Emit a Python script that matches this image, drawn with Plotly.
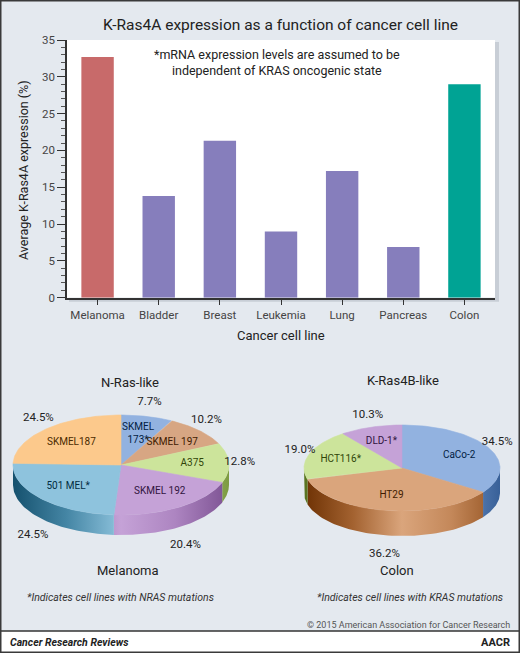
import colorsys
import numpy as np
import plotly.graph_objects as go

W, H = 520, 653
FONT = 'Roboto'

# ---- bar chart data ----
cell_lines = ['Melanoma', 'Bladder', 'Breast', 'Leukemia', 'Lung', 'Pancreas', 'Colon']
kras4a_expr = [32.7, 13.8, 21.3, 9.0, 17.2, 6.9, 29.0]
bar_colors = ['#c86a6a', '#867ebc', '#867ebc', '#867ebc', '#867ebc', '#867ebc', '#00a394']

# ---- pie data (clockwise from 12 o'clock) ----
nras_lines = ['SKMEL<br>173*', 'SKMEL 197', 'A375', 'SKMEL 192', '501 MEL*', 'SKMEL187']
nras_pct = [7.7, 10.2, 12.8, 20.4, 24.5, 24.5]
nras_colors = ['#92b2e0', '#d7a683', '#cce49b', '#c5a2d7', '#8ec3dd', '#fcc98c']

kras_lines = ['CaCo-2', 'HT29', 'HCT116*', 'DLD-1*']
kras_pct = [34.5, 36.2, 19.0, 10.3]
kras_colors = ['#92b2e0', '#daa57c', '#cce49b', '#c5a2d7']


def px(x):
    return x / W


def py(y):
    return 1 - y / H


def shade(hex_color, f):
    """Darken a colour (f < 1) while pushing its saturation up, like a shaded wall."""
    h = hex_color.lstrip('#')
    r, g, b = (int(h[i:i + 2], 16) / 255 for i in (0, 2, 4))
    hh, s, v = colorsys.rgb_to_hsv(r, g, b)
    s = min(1.0, s * (1 + (1 - f) * 2.5))
    r, g, b = colorsys.hsv_to_rgb(hh, s, v * f)
    return 'rgb(%d,%d,%d)' % (r * 255, g * 255, b * 255)


def add_pie3d(fig, labels, values, colors, cx, cy, a, b, depth):
    """Tilted pie drawn as filled polygons on the hidden x2/y2 axes."""
    bounds = np.concatenate([[0], np.cumsum(values)]) / sum(values) * 360
    # side walls, front half only
    for i, col in enumerate(colors):
        t1, t2 = max(bounds[i], 90), min(bounds[i + 1], 270)
        if t2 <= t1:
            continue
        th = np.radians(np.linspace(t1, t2, 60))
        xs = cx + a * np.sin(th)
        ys = cy - b * np.cos(th)
        fig.add_trace(go.Scatter(
            x=np.concatenate([xs, xs[::-1], xs[:1]]),
            y=np.concatenate([ys, ys[::-1] + depth, ys[:1]]),
            mode='lines', fill='toself', line=dict(width=0),
            fillgradient=dict(type='horizontal', start=cx - a, stop=cx + a,
                              colorscale=[[0, shade(col, 0.5)], [0.25, shade(col, 0.75)],
                                          [0.5, shade(col, 1.0)], [0.75, shade(col, 0.9)],
                                          [1, shade(col, 0.68)]]),
            xaxis='x2', yaxis='y2', hoverinfo='skip', showlegend=False))
    # top surface
    for i, col in enumerate(colors):
        th = np.radians(np.linspace(bounds[i], bounds[i + 1], 80))
        fig.add_trace(go.Scatter(
            x=np.concatenate([[cx], cx + a * np.sin(th), [cx]]),
            y=np.concatenate([[cy], cy - b * np.cos(th), [cy]]),
            mode='lines', fill='toself', fillcolor=col,
            line=dict(width=0.6, color=col),
            xaxis='x2', yaxis='y2', hoverinfo='skip', showlegend=False))
    # labels
    mids = np.radians((bounds[:-1] + bounds[1:]) / 2)
    fig.add_trace(go.Scatter(
        x=cx + 0.66 * a * np.sin(mids), y=cy - 0.64 * b * np.cos(mids),
        mode='text', text=labels,
        textfont=dict(family=FONT, size=10, color=[shade(c, 0.3) for c in colors]),
        xaxis='x2', yaxis='y2', hoverinfo='skip', showlegend=False))
    front = np.where(np.cos(mids) < 0, depth + 6, 0)
    fig.add_trace(go.Scatter(
        x=cx + 1.1 * a * np.sin(mids), y=cy - 1.3 * b * np.cos(mids) + front,
        mode='text', text=['%.1f%%' % v for v in values],
        textfont=dict(family=FONT, size=11.5, color='#222'),
        xaxis='x2', yaxis='y2', hoverinfo='skip', showlegend=False))


fig = go.Figure()

fig.add_trace(go.Bar(
    x=cell_lines, y=kras4a_expr, marker=dict(color=bar_colors, line=dict(width=0)),
    width=0.53, hoverinfo='x+y', showlegend=False))

add_pie3d(fig, nras_lines, nras_pct, nras_colors, cx=121, cy=465, a=108, b=50, depth=20)
add_pie3d(fig, kras_lines, kras_pct, kras_colors, cx=402, cy=468, a=98, b=43, depth=25)

# plot area white panel with drop shadow, footer and frame
x0, x1 = px(67), px(495)
y0, y1 = py(297.7), py(40)
shapes = [
    dict(type='rect', xref='paper', yref='paper', x0=x0 + px(2), x1=x1 + px(4),
         y0=y0 - 4 / H, y1=y1 - 2 / H, fillcolor='#c8ced6', line=dict(width=0), layer='below'),
    dict(type='rect', xref='paper', yref='paper', x0=x0, x1=x1, y0=y0, y1=y1,
         fillcolor='white', line=dict(width=0), layer='below'),
    dict(type='rect', xref='paper', yref='paper', x0=0, x1=1, y0=0, y1=py(631),
         fillcolor='white', line=dict(width=0), layer='below'),
    dict(type='line', xref='paper', yref='paper', x0=0, x1=1, y0=py(631), y1=py(631),
         line=dict(color='#333', width=1.5)),
    dict(type='rect', xref='paper', yref='paper', x0=0.5 / W, x1=1 - 0.5 / W,
         y0=0.5 / H, y1=1 - 0.5 / H, line=dict(color='#3a3a3a', width=2)),
]

ann = [
    dict(x=px(280), y=py(25), text='K-Ras4A expression as a function of cancer cell line',
         font=dict(size=15.5, color='#222')),
    dict(x=px(277), y=py(62), text='*mRNA expression levels are assumed to be<br>independent of KRAS oncogenic state',
         font=dict(size=12.5, color='#222')),
    dict(x=px(24), y=py(170), text='Average K-Ras4A expression (%)', textangle=-90,
         font=dict(size=12.5, color='#222')),
    dict(x=px(281), y=py(335), text='Cancer cell line', font=dict(size=13, color='#222')),
    dict(x=px(130), y=py(382), text='N-Ras-like', font=dict(size=13, color='#222')),
    dict(x=px(403), y=py(380), text='K-Ras4B-like', font=dict(size=13, color='#222')),
    dict(x=px(128), y=py(570), text='Melanoma', font=dict(size=13, color='#222')),
    dict(x=px(397), y=py(570), text='Colon', font=dict(size=13, color='#222')),
    dict(x=px(120), y=py(597), text='<i>*Indicates cell lines with NRAS mutations</i>',
         font=dict(size=10.5, color='#333')),
    dict(x=px(410), y=py(597), text='<i>*Indicates cell lines with KRAS mutations</i>',
         font=dict(size=10.5, color='#333')),
    dict(x=px(512), y=py(625), xanchor='right', text='\u00a9 2015 American Association for Cancer Research',
         font=dict(size=9, color='#555')),
    dict(x=px(8), y=py(642), xanchor='left', text='<b><i>Cancer Research Reviews</i></b>',
         font=dict(size=10.5, color='#222')),
    dict(x=px(512), y=py(642), xanchor='right', text='<b>AACR</b>',
         font=dict(size=11, color='#222')),
]
for a_ in ann:
    a_.setdefault('xref', 'paper')
    a_.setdefault('yref', 'paper')
    a_.setdefault('xanchor', 'center')
    a_.setdefault('yanchor', 'middle')
    a_.setdefault('showarrow', False)
    a_['font'].setdefault('family', FONT)

fig.update_layout(
    width=W, height=H, autosize=False,
    margin=dict(l=0, r=0, t=0, b=0),
    paper_bgcolor='#e4e9ef', plot_bgcolor='rgba(0,0,0,0)',
    font=dict(family=FONT, color='#333'),
    shapes=shapes, annotations=ann, showlegend=False,
    xaxis=dict(domain=[x0, x1], type='category', range=[-0.5, 6.5],
               showline=True, linecolor='#333', linewidth=1.5,
               ticks='outside', ticklen=6, tickcolor='#333', tickwidth=1.2,
               tickfont=dict(size=11.5, color='#444'), showgrid=False, automargin=False),
    yaxis=dict(domain=[y0, y1], range=[0, 35], dtick=5,
               showline=True, linecolor='#333', linewidth=1.5,
               ticks='outside', ticklen=8, tickcolor='#333', tickwidth=1.2,
               minor=dict(dtick=1, ticks='outside', ticklen=4, tickcolor='#555', tickwidth=1),
               tickfont=dict(size=11.5, color='#444'),
               showgrid=False, zeroline=False, automargin=False),
    xaxis2=dict(domain=[0, 1], range=[0, W], visible=False, fixedrange=True),
    yaxis2=dict(domain=[py(575), py(370)], range=[575, 370], visible=False, fixedrange=True),
)

fig.write_html('out.html', config={'displayModeBar': False},
               post_script="document.body.style.margin='0';document.body.style.overflow='hidden';")
